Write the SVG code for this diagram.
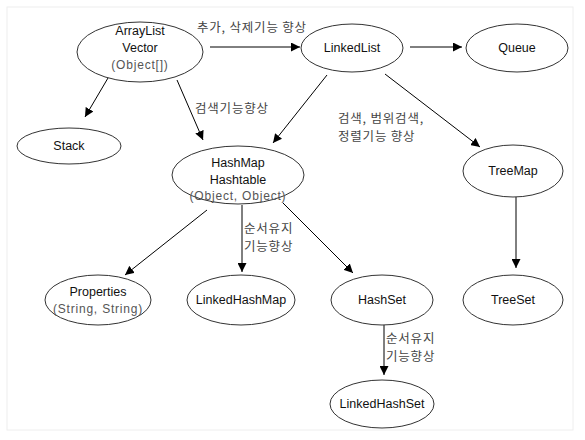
<svg xmlns="http://www.w3.org/2000/svg" width="585" height="440" viewBox="0 0 585 440">
<defs>
<marker id="ah" viewBox="0 0 10 10" refX="10" refY="5" markerWidth="9" markerHeight="9" markerUnits="userSpaceOnUse" orient="auto">
<path d="M0,0 L10,5 L0,10 z" fill="#000"/>
</marker>
<style>
.n ellipse{fill:#fff;stroke:#333;stroke-width:1}
.t{font-family:"Liberation Sans","Noto Sans CJK KR",sans-serif;font-size:12.5px;fill:#111;text-anchor:middle}
.s{font-family:"Liberation Sans","Noto Sans CJK KR",sans-serif;font-size:12px;fill:#555;text-anchor:middle;letter-spacing:0.8px}
.l{font-family:"Noto Sans CJK KR",sans-serif;font-size:12.5px;fill:#444;letter-spacing:0.8px}
.c line{stroke:#000;stroke-width:1;marker-end:url(#ah)}
</style>
</defs>
<rect x="0" y="0" width="585" height="440" fill="#fff"/>
<rect x="7" y="7" width="566" height="423" fill="none" stroke="#eeeeee" stroke-width="1"/>
<g id="connectors" class="c">
<line x1="210" y1="47" x2="300" y2="47"/>
<line x1="410" y1="47" x2="462" y2="47"/>
<line x1="108" y1="78" x2="85" y2="117"/>
<line x1="177" y1="80" x2="203" y2="140"/>
<line x1="327" y1="75" x2="273" y2="143"/>
<line x1="385" y1="74" x2="480" y2="147"/>
<line x1="516" y1="197" x2="516" y2="268"/>
<line x1="207" y1="210" x2="125" y2="275"/>
<line x1="242" y1="205" x2="242" y2="272"/>
<line x1="283" y1="203" x2="353" y2="273"/>
<line x1="384" y1="325" x2="384" y2="375"/>
</g>
<g id="labels">
<text class="l" x="197" y="32">추가, 삭제기능 향상</text>
<text class="l" x="195" y="113">검색기능향상</text>
<text class="l" x="338" y="123">검색, 범위검색,</text>
<text class="l" x="338" y="141">정렬기능 향상</text>
<text class="l" x="244" y="233">순서유지</text>
<text class="l" x="244" y="251">기능향상</text>
<text class="l" x="386" y="343">순서유지</text>
<text class="l" x="386" y="361">기능향상</text>
</g>
<g id="ArrayList" class="n"><ellipse cx="140" cy="52" rx="63" ry="30"/>
<text class="t" x="140" y="35">ArrayList</text><text class="t" x="140" y="52">Vector</text><text class="s" x="140" y="69">(Object[])</text></g>
<g id="LinkedList" class="n"><ellipse cx="352" cy="48" rx="51" ry="24"/><text class="t" x="352" y="52">LinkedList</text></g>
<g id="Queue" class="n"><ellipse cx="517" cy="48" rx="51" ry="24"/><text class="t" x="517" y="52">Queue</text></g>
<g id="Stack" class="n"><ellipse cx="69" cy="146" rx="52" ry="18"/><text class="t" x="69" y="150">Stack</text></g>
<g id="HashMap" class="n"><ellipse cx="238" cy="175" rx="66" ry="29"/>
<text class="t" x="238" y="167">HashMap</text><text class="t" x="238" y="184">Hashtable</text><text class="s" x="238" y="200">(Object, Object)</text></g>
<g id="TreeMap" class="n"><ellipse cx="513" cy="171" rx="50" ry="26"/><text class="t" x="513" y="175">TreeMap</text></g>
<g id="Properties" class="n"><ellipse cx="98" cy="300" rx="53" ry="25"/>
<text class="t" x="98" y="296">Properties</text><text class="s" x="98" y="313">(String, String)</text></g>
<g id="LinkedHashMap" class="n"><ellipse cx="241" cy="300" rx="54" ry="25"/><text class="t" x="241" y="304">LinkedHashMap</text></g>
<g id="HashSet" class="n"><ellipse cx="382" cy="300" rx="51" ry="25"/><text class="t" x="382" y="304">HashSet</text></g>
<g id="TreeSet" class="n"><ellipse cx="513" cy="300" rx="50" ry="25"/><text class="t" x="513" y="304">TreeSet</text></g>
<g id="LinkedHashSet" class="n"><ellipse cx="382" cy="404" rx="52" ry="24"/><text class="t" x="382" y="408">LinkedHashSet</text></g>
</svg>
